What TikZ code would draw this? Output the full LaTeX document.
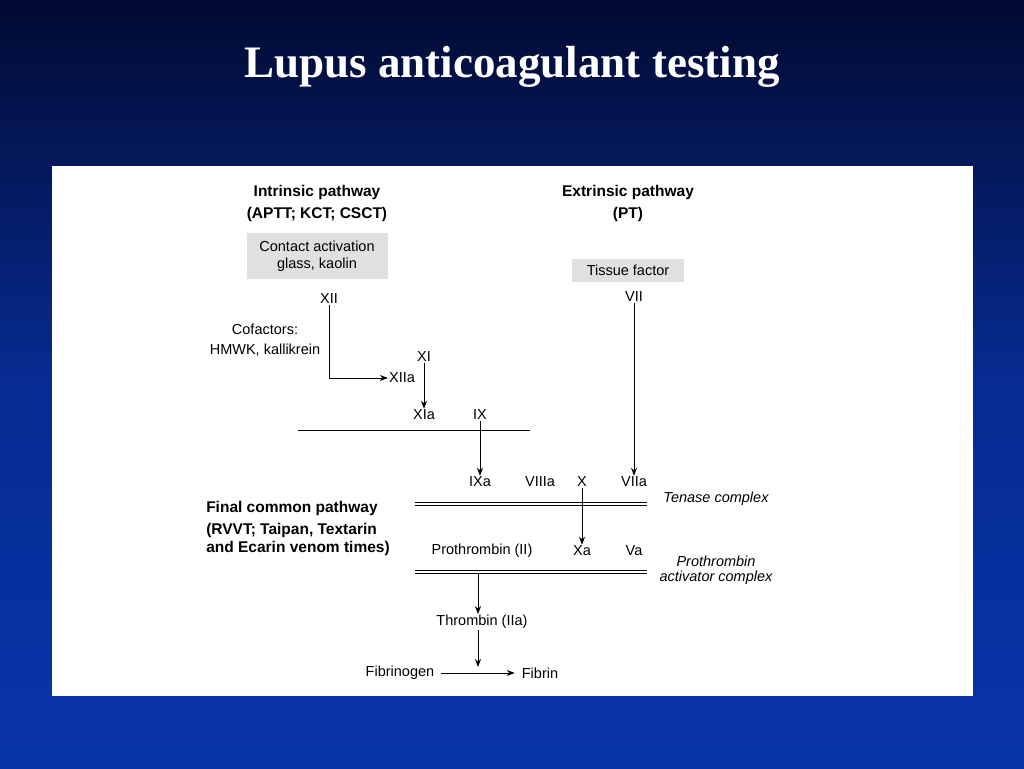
\documentclass[tikz,border=0pt]{standalone}
\usepackage{fontspec}
\setmainfont{Liberation Sans}
\newfontfamily\titlefont{Liberation Serif}
\usetikzlibrary{positioning,calc,arrows.meta}
\definecolor{navy}{RGB}{2,10,50}
\definecolor{slideblue}{RGB}{8,52,170}
\definecolor{boxgray}{RGB}{224,224,224}
\tikzset{x=1pt,y=-1pt,
  lbl/.style={inner sep=1pt,font=\fontsize{14.5}{17}\selectfont},
  hd/.style={inner sep=1pt,font=\fontsize{15.5}{18}\selectfont\bfseries,align=center},
  cx/.style={inner sep=1pt,font=\fontsize{14.5}{15}\selectfont\itshape,align=center},
  graybox/.style={fill=boxgray,align=center,inner sep=1pt,font=\fontsize{14.5}{17}\selectfont},
  arr/.style={-{Stealth[length=8pt,width=6pt]},line width=0.7pt}}
\begin{document}
\begin{tikzpicture}
	\shade[top color=navy,bottom color=slideblue,middle color=slideblue!80!navy] (0,0) rectangle (1024,768);
	\useasboundingbox (0,0) rectangle (1024,768);
	\node[text=white,font=\titlefont\fontsize{45}{50}\selectfont\bfseries] (title) at (512,67) {Lupus anticoagulant testing};
	\fill[white] (52,166) rectangle (973,696);

	\begin{scope}
		\node[hd] (intr) at (317,203) {Intrinsic pathway\\[4pt](APTT; KCT; CSCT)};
		\node[hd] (extr) at (628,203) {Extrinsic pathway\\[4pt](PT)};
		\node[graybox,minimum width=141,minimum height=46] (contact) at (317,256) {Contact activation\\glass, kaolin};
		\node[graybox,minimum width=112,minimum height=23] (tissue) at (628,270) {Tissue factor};

		\node[lbl] (xii) at (329,299) {XII};
		\node[lbl] (vii) at (634,297) {VII};
		\node[lbl,align=center] (cof) at (265,340) {Cofactors:\\[3pt]HMWK, kallikrein};
		\node[lbl] (xiia) at (402,378) {XIIa};
		\node[lbl] (xi) at (424,357) {XI};
		\node[lbl] (xia) at (424,415) {XIa};
		\node[lbl] (ix) at (480,415) {IX};
		\coordinate (barl) at (298,430);
		\coordinate (barr) at (530,430);

		\node[lbl] (ixa) at (480,482) {IXa};
		\node[lbl] (viiia) at (540,482) {VIIIa};
		\node[lbl] (x) at (582,482) {X};
		\node[lbl] (viia) at (634,482) {VIIa};
		\node[cx] (tenase) at (716,499) {Tenase complex};

		\node[hd,align=left] (final) at (298,528) {Final common pathway\\[4pt](RVVT; Taipan, Textarin\\and Ecarin venom times)};
		\node[lbl] (proth) at (482,551) {Prothrombin (II)};
		\node[lbl] (xa) at (582,551) {Xa};
		\node[lbl] (va) at (634,551) {Va};
		\node[cx] (pac) at (716,570) {Prothrombin\\activator complex};

		\node[lbl] (thromb) at (482,622) {Thrombin (IIa)};
		\node[lbl] (fibgen) at (400,673) {Fibrinogen};
		\node[lbl] (fib) at (540,673) {Fibrin};
		\coordinate (dbl1) at (478,574);

		\draw[line width=1pt] (barl) -- (barr);
		\draw[line width=0.6pt] (415,502) -- (647,502) (415,505.5) -- (647,505.5);
		\draw[line width=0.6pt] (415,570) -- (647,570) (415,573.5) -- (647,573.5);

		\draw[arr] (xii) |- (xiia);
		\draw[arr] (xi) -- (xia);
		\draw[arr] (ix) -- (ixa);
		\draw[arr] (vii) -- (viia);
		\draw[arr] (x) -- (xa);
		\draw[arr] (dbl1) -- (dbl1|-thromb.north);
		\draw[arr] (thromb.south-|dbl1) -- (478,667);
		\draw[arr] ([xshift=6pt]fibgen.east) -- ([xshift=-6pt]fib.west);
	\end{scope}
\end{tikzpicture}
\end{document}
